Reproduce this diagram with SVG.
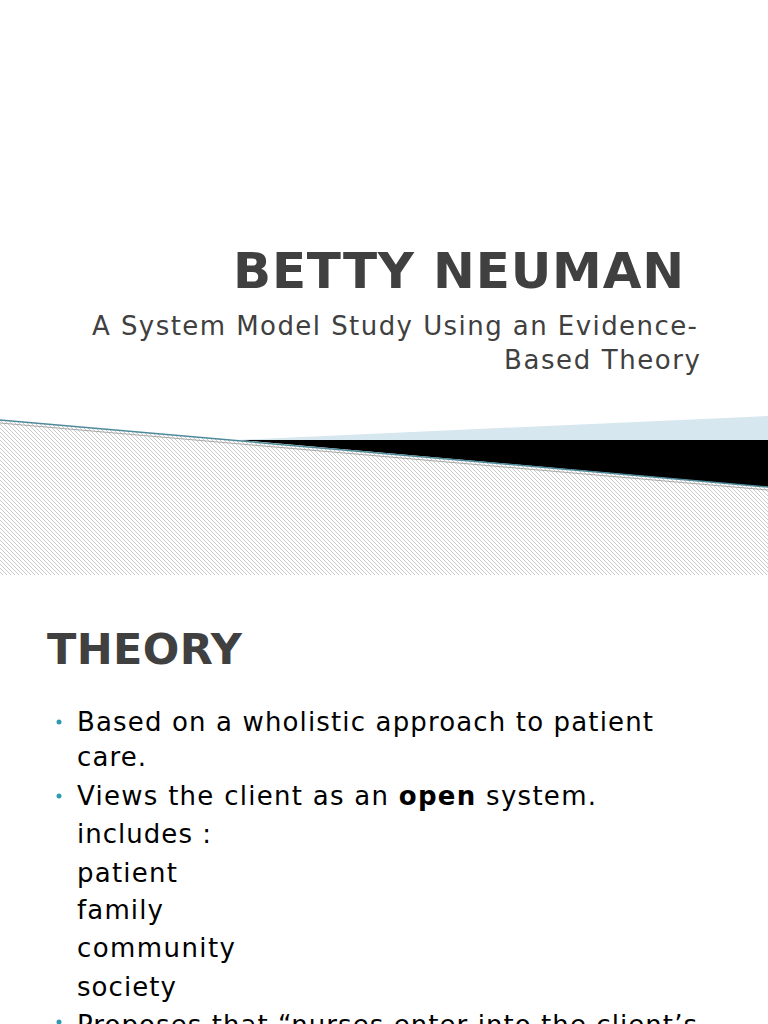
<svg xmlns="http://www.w3.org/2000/svg" width="768" height="1024" viewBox="0 0 768 1024">
<style>
.t{font-family:"DejaVu Sans",sans-serif;}
.b{font-family:"DejaVu Sans",sans-serif;font-size:26px;fill:#000}
</style>
<defs>
<pattern id="h" width="4" height="4" patternUnits="userSpaceOnUse">
<rect width="4" height="4" fill="#fff"/>
<path d="M0,0 L4,4" stroke="#bbb" stroke-width="0.8"/>
</pattern>
</defs>
<rect width="768" height="1024" fill="#fff"/>
<polygon points="0,420 768,487 768,575 0,575" fill="url(#h)"/>
<polygon points="235,440 768,416 768,440" fill="#d6e7ef"/>
<polygon points="240,440 768,440 768,487" fill="#000"/>
<line x1="0" y1="420" x2="768" y2="487" stroke="#4f8a9a" stroke-width="1.5"/>
<line x1="0" y1="423" x2="768" y2="490" stroke="#aaa" stroke-width="1"/>
<text class="t" x="233" y="288" textLength="451" font-size="50" font-weight="bold" fill="#404040">BETTY NEUMAN</text>
<text class="t" x="92" y="335" textLength="605" font-size="26" fill="#404040">A System Model Study Using an Evidence-</text>
<text class="t" x="504" y="369" textLength="196" font-size="26" fill="#404040">Based Theory</text>
<text class="t" x="47" y="664" textLength="195" font-size="43" font-weight="bold" fill="#404040">THEORY</text>
<g fill="#2e9bb5"><circle cx="59" cy="722" r="2.5"/><circle cx="59" cy="796" r="2.5"/><circle cx="59" cy="1022" r="2.5"/></g>
<text class="b" x="77" y="731" textLength="576">Based on a wholistic approach to patient</text>
<text class="b" x="77" y="766" textLength="69">care.</text>
<text class="b" x="77" y="805" textLength="519">Views the client as an <tspan font-weight="bold">open</tspan> system.</text>
<text class="b" x="77" y="843" textLength="134">includes :</text>
<text class="b" x="77" y="882" textLength="100">patient</text>
<text class="b" x="77" y="919" textLength="86">family</text>
<text class="b" x="77" y="957" textLength="158">community</text>
<text class="b" x="77" y="996" textLength="99">society</text>
<text class="b" x="77" y="1034" textLength="620">Proposes that “nurses enter into the client’s</text>
</svg>
